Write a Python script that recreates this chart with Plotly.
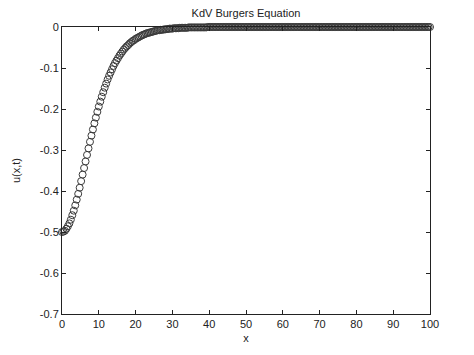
import plotly.graph_objects as go

# ---- data ----
X_STEP = 0.4
N_POINTS = 251
x_vals = [round(i * X_STEP, 1) for i in range(N_POINTS)]

u_head = [
    -0.500, -0.499, -0.497, -0.492, -0.486, -0.479, -0.470, -0.459, -0.448, -0.435,
    -0.421, -0.407, -0.392, -0.376, -0.360, -0.344, -0.328, -0.312, -0.296, -0.280,
    -0.265, -0.250, -0.235, -0.221, -0.207, -0.194, -0.182, -0.170, -0.159, -0.148,
    -0.138, -0.128, -0.119, -0.111, -0.103, -0.095, -0.088, -0.082, -0.076, -0.070,
    -0.065, -0.060, -0.055, -0.051, -0.047, -0.044, -0.040, -0.037, -0.034, -0.032,
    -0.029, -0.027, -0.025, -0.023, -0.021, -0.019, -0.018, -0.016, -0.015, -0.014,
    -0.013, -0.012, -0.011, -0.010, -0.009, -0.008, -0.008, -0.007, -0.007, -0.006,
    -0.006, -0.005, -0.005, -0.004, -0.004, -0.004, -0.003, -0.003, -0.003, -0.003,
    -0.002, -0.002, -0.002, -0.002, -0.002, -0.002, -0.001, -0.001, -0.001, -0.001,
    -0.001, -0.001, -0.001, -0.001, -0.001, -0.001, -0.001, -0.001, -0.001, -0.000,
]
u_tail = [
    0.0, 0.0, 0.0, 0.0, 0.0, 0.0, 0.0, 0.0, 0.0, 0.0, 0.0, 0.0, 0.0, 0.0, 0.0, 0.0, 0.0, 0.0, 0.0, 0.0,
    0.0, 0.0, 0.0, 0.0, 0.0, 0.0, 0.0, 0.0, 0.0, 0.0, 0.0, 0.0, 0.0, 0.0, 0.0, 0.0, 0.0, 0.0, 0.0, 0.0,
    0.0, 0.0, 0.0, 0.0, 0.0, 0.0, 0.0, 0.0, 0.0, 0.0, 0.0, 0.0, 0.0, 0.0, 0.0, 0.0, 0.0, 0.0, 0.0, 0.0,
    0.0, 0.0, 0.0, 0.0, 0.0, 0.0, 0.0, 0.0, 0.0, 0.0, 0.0, 0.0, 0.0, 0.0, 0.0, 0.0, 0.0, 0.0, 0.0, 0.0,
    0.0, 0.0, 0.0, 0.0, 0.0, 0.0, 0.0, 0.0, 0.0, 0.0, 0.0, 0.0, 0.0, 0.0, 0.0, 0.0, 0.0, 0.0, 0.0, 0.0,
    0.0, 0.0, 0.0, 0.0, 0.0, 0.0, 0.0, 0.0, 0.0, 0.0, 0.0, 0.0, 0.0, 0.0, 0.0, 0.0, 0.0, 0.0, 0.0, 0.0,
    0.0, 0.0, 0.0, 0.0, 0.0, 0.0, 0.0, 0.0, 0.0, 0.0, 0.0, 0.0, 0.0, 0.0, 0.0, 0.0, 0.0, 0.0, 0.0, 0.0,
    0.0, 0.0, 0.0, 0.0, 0.0, 0.0, 0.0, 0.0, 0.0, 0.0, 0.0, 0.0, 0.0, 0.0, 0.0, 0.0, 0.0, 0.0, 0.0, 0.0,
    0.0, 0.0, 0.0, 0.0, 0.0, 0.0, 0.0, 0.0, 0.0, 0.0, 0.0, 0.0, 0.0, 0.0, 0.0, 0.0, 0.0, 0.0, 0.0, 0.0,
    0.0, 0.0, 0.0, 0.0, 0.0, 0.0, 0.0, 0.0, 0.0, 0.0, 0.0, 0.0, 0.0, 0.0, 0.0, 0.0, 0.0, 0.0, 0.0, 0.0,
]
u_vals = (u_head + u_tail)[:N_POINTS]

x_ticks = [0, 10, 20, 30, 40, 50, 60, 70, 80, 90, 100]
x_tick_text = ["0", "10", "20", "30", "40", "50", "60", "70", "80", "90", "100"]
y_ticks = [0, -0.1, -0.2, -0.3, -0.4, -0.5, -0.6, -0.7]
y_tick_text = ["0", "-0.1", "-0.2", "-0.3", "-0.4", "-0.5", "-0.6", "-0.7"]

TITLE = "KdV Burgers Equation"
X_LABEL = "x"
Y_LABEL = "u(x,t)"

FONT = "Liberation Sans, Arial, sans-serif"
INK = "#222222"

fig = go.Figure()
fig.add_trace(go.Scatter(
    x=x_vals, y=u_vals, mode="markers",
    marker=dict(symbol="circle-open", size=7, color="#3a3a3a", line=dict(width=1, color="#3a3a3a")),
    cliponaxis=False, showlegend=False,
))

axis_common = dict(
    showline=True, linecolor=INK, linewidth=1, mirror="ticks",
    ticks="inside", ticklen=4, tickwidth=1, tickcolor=INK,
    showgrid=False, zeroline=False,
    tickfont=dict(family=FONT, size=11, color=INK),
)

fig.update_layout(
    width=474, height=355,
    margin=dict(l=62, r=44, t=27, b=39),
    paper_bgcolor="white", plot_bgcolor="white",
    font=dict(family=FONT, size=11, color=INK),
    title=dict(text=TITLE, x=0.519, xanchor="center", y=(355 - 13) / 355, yanchor="middle",
               yref="container", font=dict(family=FONT, size=11, color=INK)),
    xaxis=dict(range=[0, 100], tickvals=x_ticks, ticktext=x_tick_text,
               title=dict(text=X_LABEL, standoff=5, font=dict(family=FONT, size=11, color=INK)),
               **axis_common),
    yaxis=dict(range=[-0.7, 0], tickvals=y_ticks, ticktext=y_tick_text,
               title=dict(text=Y_LABEL, standoff=16, font=dict(family=FONT, size=11, color=INK)),
               **axis_common),
)

fig.write_html("out.html")
